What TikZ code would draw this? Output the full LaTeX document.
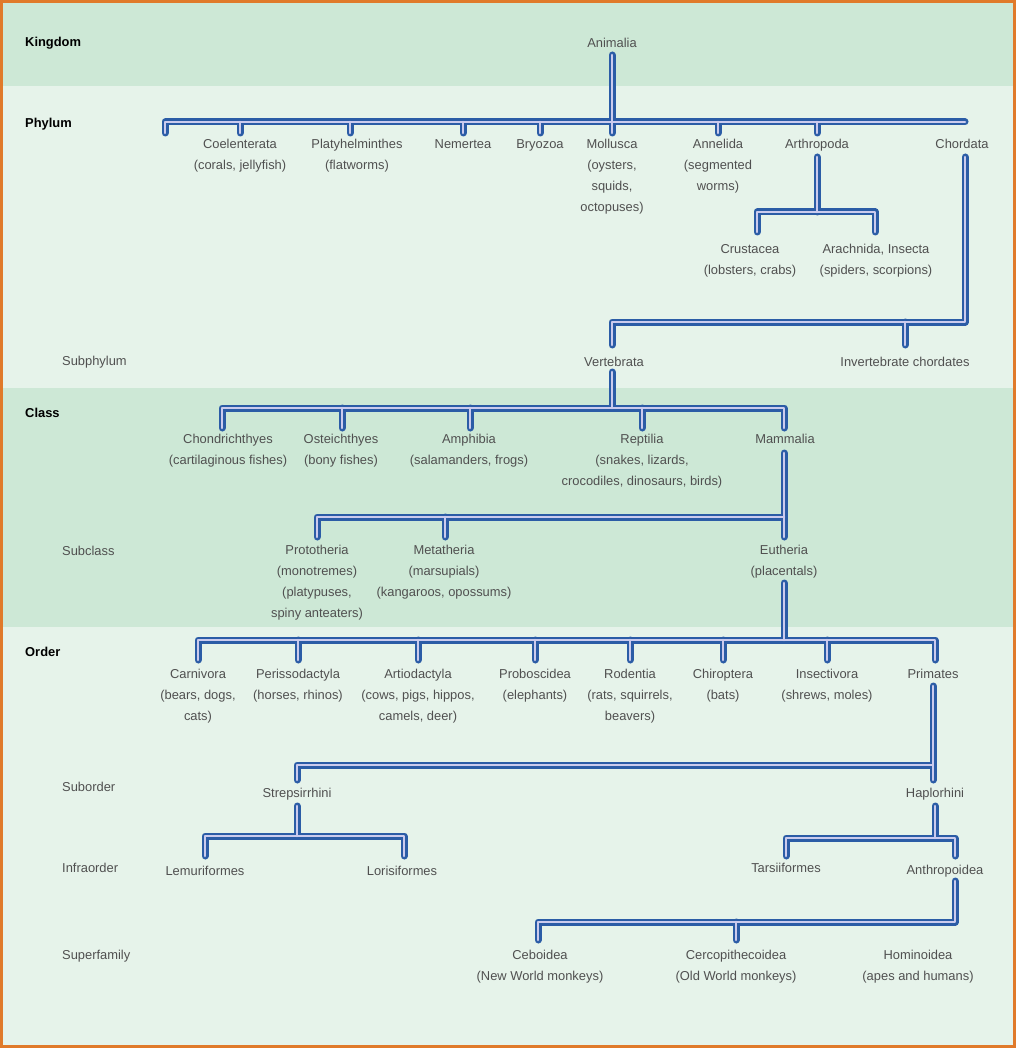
\documentclass[tikz,border=0pt]{standalone}
\usepackage{fontspec}
\setmainfont{Liberation Sans}
\definecolor{bandA}{HTML}{CDE8D6}
\definecolor{bandB}{HTML}{E6F3EA}
\definecolor{lnout}{HTML}{2B5CA6}
\definecolor{lnin}{HTML}{CBCBEE}
\definecolor{txt}{HTML}{505050}
\definecolor{frame}{HTML}{E07A2A}
\newcommand\treepaths[1]{%
\draw[#1] (612,55)--(612,122);
\draw[#1] (165,133)--(165,122)--(965,122);
\foreach \x in {240,350,463,540,612,718,817}{\draw[#1] (\x,122)--(\x,133);}
\draw[#1] (817,157)--(817,212);
\draw[#1] (757,232)--(757,212)--(875,212)--(875,232);
\draw[#1] (965,157)--(965,322)--(612,322)--(612,345);
\draw[#1] (905,322)--(905,345);
\draw[#1] (612,372)--(612,408);
\draw[#1] (222,428)--(222,408)--(784,408)--(784,428);
\foreach \x in {342,470,642}{\draw[#1] (\x,408)--(\x,428);}
\draw[#1] (784,453)--(784,537);
\draw[#1] (317,537)--(317,517)--(784,517);
\draw[#1] (445,517)--(445,537);
\draw[#1] (784,583)--(784,640);
\draw[#1] (198,660)--(198,640)--(935,640)--(935,660);
\foreach \x in {298,418,535,630,723,827}{\draw[#1] (\x,640)--(\x,660);}
\draw[#1] (933,686)--(933,765)--(297,765)--(297,780);
\draw[#1] (933,765)--(933,780);
\draw[#1] (297,806)--(297,836);
\draw[#1] (205,856)--(205,836)--(404,836)--(404,856);
\draw[#1] (935,806)--(935,838);
\draw[#1] (786,856)--(786,838)--(955,838)--(955,856);
\draw[#1] (955,881)--(955,922)--(538,922)--(538,940);
\draw[#1] (736,922)--(736,940);
}
\begin{document}
\begin{tikzpicture}[x=1pt,y=-1pt,
  lbl/.style={text=txt,font=\fontsize{12.9}{21}\selectfont,align=center,inner sep=0pt,yshift=-2pt},
  rowb/.style={text=black,font=\fontsize{12.9}{21}\selectfont\bfseries,anchor=west,inner sep=0pt,yshift=-2pt},
  rown/.style={text=txt,font=\fontsize{12.9}{21}\selectfont,anchor=west,inner sep=0pt,yshift=-2pt}]
\useasboundingbox (0,0) rectangle (1016,1048);
\fill[bandA] (0,0) rectangle (1016,86);
\fill[bandB] (0,86) rectangle (1016,388);
\fill[bandA] (0,388) rectangle (1016,627);
\fill[bandB] (0,627) rectangle (1016,1048);
\draw[frame,line width=3pt] (1.5,1.5) rectangle (1014.5,1046.5);
\treepaths{lnout,line width=7pt,line cap=round,line join=round}
\treepaths{lnin,line width=2.6pt,line cap=round,line join=round}
% row labels
\node[rowb] (rk) at (25,41) {Kingdom};
\node[rowb] (rp) at (25,122) {Phylum};
\node[rown] (rsp) at (62,360) {Subphylum};
\node[rowb] (rc) at (25,411) {Class};
\node[rown] (rsc) at (62,549) {Subclass};
\node[rowb] (ro) at (25,650) {Order};
\node[rown] (rso) at (62,785) {Suborder};
\node[rown] (rio) at (62,866) {Infraorder};
\node[rown] (rsf) at (62,954) {Superfamily};
% taxa
\node[lbl] (animalia) at (612,41) {Animalia};
\node[lbl,anchor=north] (coel) at (240,137) {Coelenterata\\(corals, jellyfish)};
\node[lbl,anchor=north] (platy) at (357,137) {Platyhelminthes\\(flatworms)};
\node[lbl,anchor=north] (nem) at (463,137) {Nemertea};
\node[lbl,anchor=north] (bry) at (540,137) {Bryozoa};
\node[lbl,anchor=north] (moll) at (612,137) {Mollusca\\(oysters,\\squids,\\octopuses)};
\node[lbl,anchor=north] (ann) at (718,137) {Annelida\\(segmented\\worms)};
\node[lbl,anchor=north] (arth) at (817,137) {Arthropoda};
\node[lbl,anchor=north] (chor) at (962,137) {Chordata};
\node[lbl,anchor=north] (crus) at (750,242) {Crustacea\\(lobsters, crabs)};
\node[lbl,anchor=north] (arach) at (876,242) {Arachnida, Insecta\\(spiders, scorpions)};
\node[lbl] (vert) at (614,360) {Vertebrata};
\node[lbl] (invch) at (905,360) {Invertebrate chordates};
\node[lbl,anchor=north] (chon) at (228,432) {Chondrichthyes\\(cartilaginous fishes)};
\node[lbl,anchor=north] (oste) at (341,432) {Osteichthyes\\(bony fishes)};
\node[lbl,anchor=north] (amph) at (469,432) {Amphibia\\(salamanders, frogs)};
\node[lbl,anchor=north] (rept) at (642,432) {Reptilia\\(snakes, lizards,\\crocodiles, dinosaurs, birds)};
\node[lbl,anchor=north] (mamm) at (785,432) {Mammalia};
\node[lbl,anchor=north] (proto) at (317,543) {Prototheria\\(monotremes)\\(platypuses,\\spiny anteaters)};
\node[lbl,anchor=north] (meta) at (444,543) {Metatheria\\(marsupials)\\(kangaroos, opossums)};
\node[lbl,anchor=north] (euth) at (784,543) {Eutheria\\(placentals)};
\node[lbl,anchor=north] (carn) at (198,667) {Carnivora\\(bears, dogs,\\cats)};
\node[lbl,anchor=north] (peri) at (298,667) {Perissodactyla\\(horses, rhinos)};
\node[lbl,anchor=north] (artio) at (418,667) {Artiodactyla\\(cows, pigs, hippos,\\camels, deer)};
\node[lbl,anchor=north] (prob) at (535,667) {Proboscidea\\(elephants)};
\node[lbl,anchor=north] (rod) at (630,667) {Rodentia\\(rats, squirrels,\\beavers)};
\node[lbl,anchor=north] (chir) at (723,667) {Chiroptera\\(bats)};
\node[lbl,anchor=north] (insv) at (827,667) {Insectivora\\(shrews, moles)};
\node[lbl,anchor=north] (prim) at (933,667) {Primates};
\node[lbl] (strep) at (297,792) {Strepsirrhini};
\node[lbl] (hapl) at (935,792) {Haplorhini};
\node[lbl] (lemu) at (205,869) {Lemuriformes};
\node[lbl] (lori) at (402,869) {Lorisiformes};
\node[lbl] (tars) at (786,866) {Tarsiiformes};
\node[lbl] (anth) at (945,869) {Anthropoidea};
\node[lbl,anchor=north] (cebo) at (540,948) {Ceboidea\\(New World monkeys)};
\node[lbl,anchor=north] (cerc) at (736,948) {Cercopithecoidea\\(Old World monkeys)};
\node[lbl,anchor=north] (homi) at (918,948) {Hominoidea\\(apes and humans)};
\end{tikzpicture}
\end{document}
